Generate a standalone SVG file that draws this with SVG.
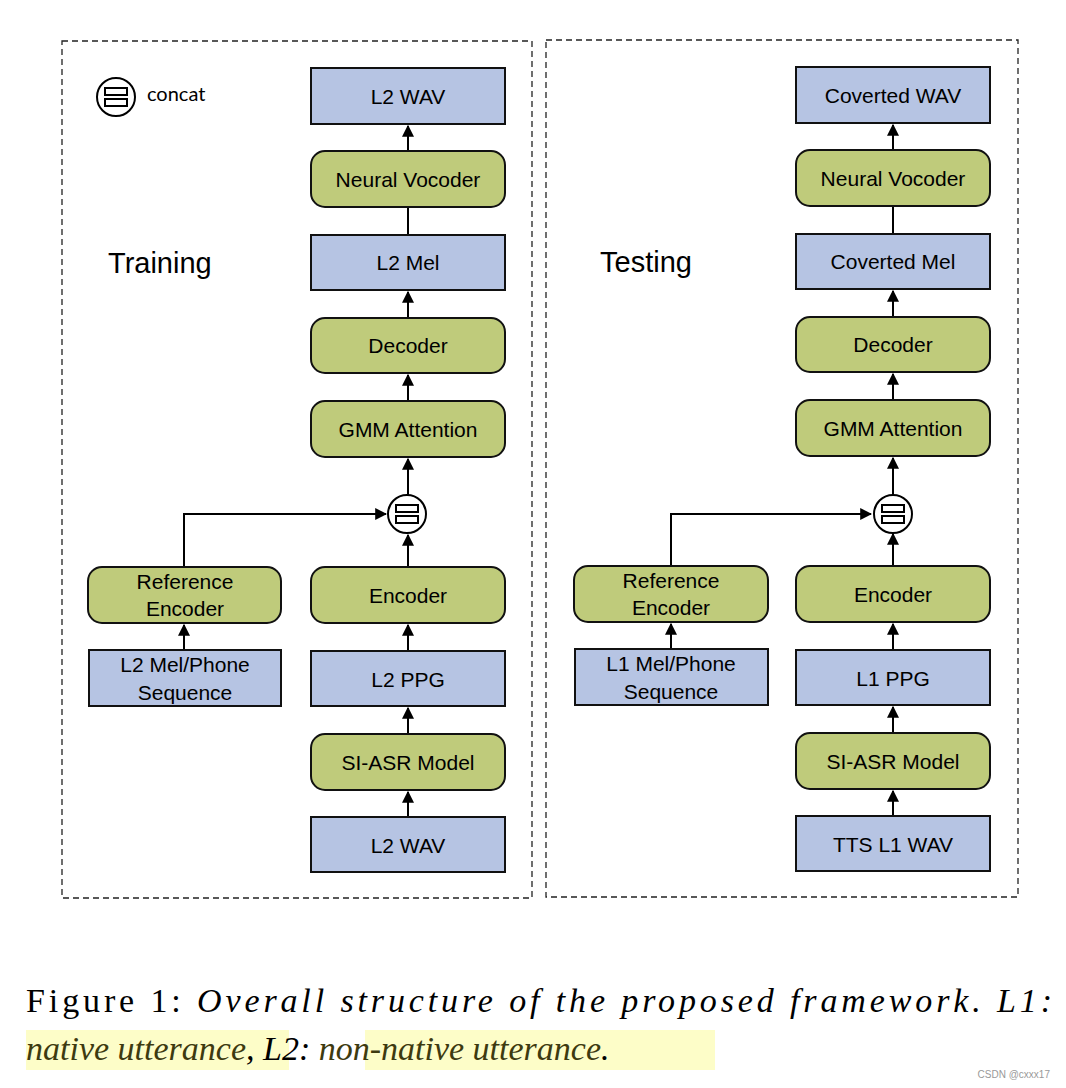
<svg xmlns="http://www.w3.org/2000/svg" width="1066" height="1088" viewBox="0 0 1066 1088">
<style>
.panel{fill:none;stroke:#222;stroke-width:1.3;stroke-dasharray:6,4}
.d{fill:#b6c4e3;stroke:#111;stroke-width:2}
.m{fill:#bfcb7b;stroke:#111;stroke-width:2}
.t{font-family:"Liberation Sans",Arial,sans-serif;font-size:21px;fill:#000;text-anchor:middle}
.c{stroke:#000;stroke-width:2;fill:none}
.cat{fill:#fff;stroke:#000;stroke-width:2}
.cap{font-family:"Liberation Serif","Times New Roman",serif;font-size:34px;fill:#000}
</style>
<defs>
<marker id="a" viewBox="0 0 10 10" refX="9" refY="5" markerWidth="6" markerHeight="6" orient="auto"><path d="M0,0L10,5L0,10z" fill="#000"/></marker>
<g id="catsym"><circle r="19" class="cat"/><rect x="-11" y="-9" width="22" height="7" class="cat"/><rect x="-11" y="2" width="22" height="7" class="cat"/></g>
</defs>
<rect class="panel" x="62" y="41" width="470" height="857"/>
<rect class="panel" x="546" y="40" width="472" height="857"/>
<g id="legend"><use href="#catsym" x="116" y="97"/><text x="147" y="101" font-family="Lato,'Noto Sans',sans-serif" font-size="20">concat</text></g>
<text x="108" y="273" font-family="'Liberation Sans',Arial,sans-serif" font-size="29">Training</text>
<text x="600" y="272" font-family="'Liberation Sans',Arial,sans-serif" font-size="29">Testing</text>
<g id="connectors">
<line class="c" x1="408" y1="151" x2="408" y2="126" marker-end="url(#a)"/>
<line class="c" x1="408" y1="207" x2="408" y2="235"/>
<line class="c" x1="408" y1="318" x2="408" y2="292" marker-end="url(#a)"/>
<line class="c" x1="408" y1="401" x2="408" y2="375" marker-end="url(#a)"/>
<line class="c" x1="408" y1="495" x2="408" y2="459" marker-end="url(#a)"/>
<line class="c" x1="408" y1="567" x2="408" y2="535" marker-end="url(#a)"/>
<line class="c" x1="408" y1="651" x2="408" y2="625" marker-end="url(#a)"/>
<line class="c" x1="408" y1="734" x2="408" y2="708" marker-end="url(#a)"/>
<line class="c" x1="408" y1="817" x2="408" y2="792" marker-end="url(#a)"/>
<line class="c" x1="184" y1="650" x2="184" y2="625" marker-end="url(#a)"/>
<polyline class="c" points="184,567 184,514 386,514" marker-end="url(#a)"/>
<line class="c" x1="893" y1="150" x2="893" y2="125" marker-end="url(#a)"/>
<line class="c" x1="893" y1="206" x2="893" y2="234"/>
<line class="c" x1="893" y1="317" x2="893" y2="291" marker-end="url(#a)"/>
<line class="c" x1="893" y1="400" x2="893" y2="374" marker-end="url(#a)"/>
<line class="c" x1="893" y1="494" x2="893" y2="458" marker-end="url(#a)"/>
<line class="c" x1="893" y1="566" x2="893" y2="534" marker-end="url(#a)"/>
<line class="c" x1="893" y1="650" x2="893" y2="624" marker-end="url(#a)"/>
<line class="c" x1="893" y1="733" x2="893" y2="707" marker-end="url(#a)"/>
<line class="c" x1="893" y1="816" x2="893" y2="791" marker-end="url(#a)"/>
<line class="c" x1="671" y1="649" x2="671" y2="624" marker-end="url(#a)"/>
<polyline class="c" points="671,566 671,514 871,514" marker-end="url(#a)"/>
</g>
<g id="tr-wav-out"><rect class="d" x="311" y="68" width="194" height="56"/><text class="t" x="408" y="104">L2 WAV</text></g>
<g id="tr-vocoder"><rect class="m" x="311" y="151" width="194" height="56" rx="14"/><text class="t" x="408" y="187">Neural Vocoder</text></g>
<g id="tr-mel"><rect class="d" x="311" y="235" width="194" height="55"/><text class="t" x="408" y="270">L2 Mel</text></g>
<g id="tr-decoder"><rect class="m" x="311" y="318" width="194" height="55" rx="14"/><text class="t" x="408" y="353">Decoder</text></g>
<g id="tr-gmm"><rect class="m" x="311" y="401" width="194" height="56" rx="14"/><text class="t" x="408" y="437">GMM Attention</text></g>
<g id="tr-concat"><use href="#catsym" x="407" y="514"/></g>
<g id="tr-encoder"><rect class="m" x="311" y="567" width="194" height="56" rx="14"/><text class="t" x="408" y="603">Encoder</text></g>
<g id="tr-ppg"><rect class="d" x="311" y="651" width="194" height="55"/><text class="t" x="408" y="687">L2 PPG</text></g>
<g id="tr-asr"><rect class="m" x="311" y="734" width="194" height="56" rx="14"/><text class="t" x="408" y="770">SI-ASR Model</text></g>
<g id="tr-wav-in"><rect class="d" x="311" y="817" width="194" height="55"/><text class="t" x="408" y="853">L2 WAV</text></g>
<g id="tr-refenc"><rect class="m" x="88" y="567" width="193" height="56" rx="14"/><text class="t" x="185" y="589">Reference</text><text class="t" x="185" y="616">Encoder</text></g>
<g id="tr-melphone"><rect class="d" x="89" y="650" width="192" height="56"/><text class="t" x="185" y="672">L2 Mel/Phone</text><text class="t" x="185" y="700">Sequence</text></g>
<g id="te-wav-out"><rect class="d" x="796" y="67" width="194" height="56"/><text class="t" x="893" y="103">Coverted WAV</text></g>
<g id="te-vocoder"><rect class="m" x="796" y="150" width="194" height="56" rx="14"/><text class="t" x="893" y="186">Neural Vocoder</text></g>
<g id="te-mel"><rect class="d" x="796" y="234" width="194" height="55"/><text class="t" x="893" y="269">Coverted Mel</text></g>
<g id="te-decoder"><rect class="m" x="796" y="317" width="194" height="55" rx="14"/><text class="t" x="893" y="352">Decoder</text></g>
<g id="te-gmm"><rect class="m" x="796" y="400" width="194" height="56" rx="14"/><text class="t" x="893" y="436">GMM Attention</text></g>
<g id="te-concat"><use href="#catsym" x="893" y="514"/></g>
<g id="te-encoder"><rect class="m" x="796" y="566" width="194" height="56" rx="14"/><text class="t" x="893" y="602">Encoder</text></g>
<g id="te-ppg"><rect class="d" x="796" y="650" width="194" height="55"/><text class="t" x="893" y="686">L1 PPG</text></g>
<g id="te-asr"><rect class="m" x="796" y="733" width="194" height="56" rx="14"/><text class="t" x="893" y="769">SI-ASR Model</text></g>
<g id="te-wav-in"><rect class="d" x="796" y="816" width="194" height="55"/><text class="t" x="893" y="852">TTS L1 WAV</text></g>
<g id="te-refenc"><rect class="m" x="574" y="566" width="194" height="56" rx="14"/><text class="t" x="671" y="588">Reference</text><text class="t" x="671" y="615">Encoder</text></g>
<g id="te-melphone"><rect class="d" x="575" y="649" width="193" height="56"/><text class="t" x="671" y="671">L1 Mel/Phone</text><text class="t" x="671" y="699">Sequence</text></g>
<rect x="26" y="1030" width="263" height="40" fill="#fdfdc8"/>
<rect x="365" y="1030" width="350" height="40" fill="#fdfdc8"/>
<text class="cap" x="26" y="1012" textLength="1026" lengthAdjust="spacing">Figure 1: <tspan font-style="italic">Overall structure of the proposed framework. L1:</tspan></text>
<text class="cap" x="26" y="1060" font-style="italic"><tspan fill="#3d3a10">native utterance</tspan>, L2: <tspan fill="#3d3a10">non-native utterance</tspan>.</text>
<text x="1050" y="1078" text-anchor="end" font-family="'Liberation Sans',Arial,sans-serif" font-size="10" fill="#999">CSDN @cxxx17</text>
</svg>
